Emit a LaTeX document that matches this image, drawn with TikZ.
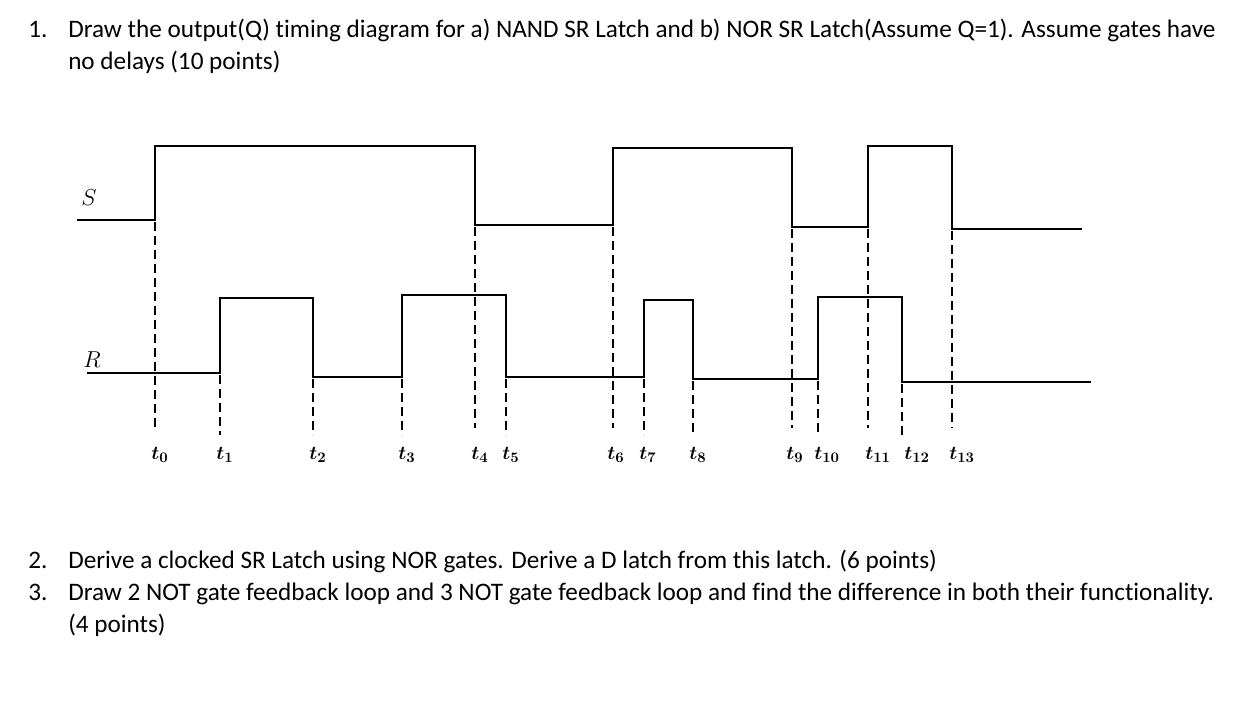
\documentclass[tikz,border=0pt]{standalone}
\usepackage{fontspec}
\setmainfont{Carlito}[Ligatures=NoCommon]
\usepackage{tikz}
\usetikzlibrary{calc}

\begin{document}
\begin{tikzpicture}[line cap=butt,line join=miter,x=0.75pt,y=-0.75pt,
    wave/.style={line width=1.5pt},
    guide/.style={line width=1.2pt,dash pattern=on 6.5pt off 4pt},
    tlabel/.style={inner sep=0pt,font=\fontsize{15}{15}\selectfont\boldmath},
    siglabel/.style={inner sep=0pt,font=\fontsize{17}{17}\selectfont},
    qtext/.style={anchor=base west,inner sep=0pt,font=\fontsize{18.9}{22}\selectfont}]
    \useasboundingbox (0,0) rectangle (1256,716);
    % question 1
    \node[qtext] (num1) at (28,38) {1.};
    \node[qtext] (q1a) at (68,38) {Draw the output(Q) timing diagram for a) NAND SR Latch and b) NOR SR Latch(Assume Q=1). Assume gates have};
    \node[qtext] (q1b) at (68,70) {no delays (10 points)};
    % signal S
    \draw [wave] (77,220)-- (155,220)-- (155,146)-- (475,146)-- (475,225)-- (613,225)-- (613,148)-- (792,148)-- (792,227)-- (868,227)-- (868,146)-- (952,146)-- (952,229)-- (1082,229);
    \node[siglabel] (sname) at (89,198) {$S$};
    % signal R
    \draw [wave] (87,373)-- (220,373)-- (220,298)-- (313,298)-- (313,377)-- (402,377)-- (402,295)-- (506,295)-- (506,377)-- (644,377)-- (644,300)-- (693,300)-- (693,379)-- (818,379)-- (818,297)-- (902,297)-- (902,382)-- (1091,382);
    \node[siglabel] (rname) at (92,360) {$R$};
    % time marks
    \draw [guide] (155,222)-- (155,428);
    \draw [guide] (220,375)-- (220,435);
    \draw [guide] (313,379)-- (313,435);
    \draw [guide] (402,379)-- (402,435);
    \draw [guide] (475,227)-- (475,428);
    \draw [guide] (506,379)-- (506,435);
    \draw [guide] (613,227)-- (613,428);
    \draw [guide] (644,379)-- (644,435);
    \draw [guide] (693,381)-- (693,435);
    \draw [guide] (792,229)-- (792,428);
    \draw [guide] (818,381)-- (818,435);
    \draw [guide] (868,229)-- (868,428);
    \draw [guide] (902,384)-- (902,435);
    \draw [guide] (952,231)-- (952,428);
    \node[tlabel] (t0) at (160,455) {$t_{0}$};
    \node[tlabel] (t1) at (225,455) {$t_{1}$};
    \node[tlabel] (t2) at (318,455) {$t_{2}$};
    \node[tlabel] (t3) at (407,455) {$t_{3}$};
    \node[tlabel] (t4) at (480,455) {$t_{4}$};
    \node[tlabel] (t5) at (511,455) {$t_{5}$};
    \node[tlabel] (t6) at (616,455) {$t_{6}$};
    \node[tlabel] (t7) at (648,455) {$t_{7}$};
    \node[tlabel] (t8) at (698,455) {$t_{8}$};
    \node[tlabel] (t9) at (795,455) {$t_{9}$};
    \node[tlabel] (t10) at (827,455) {$t_{10}$};
    \node[tlabel] (t11) at (878,455) {$t_{11}$};
    \node[tlabel] (t12) at (917,455) {$t_{12}$};
    \node[tlabel] (t13) at (962,455) {$t_{13}$};
    % questions 2 and 3
    \node[qtext] (num2) at (28,568) {2.};
    \node[qtext] (q2) at (68,568) {Derive a clocked SR Latch using NOR gates. Derive a D latch from this latch. (6 points)};
    \node[qtext] (num3) at (28,600) {3.};
    \node[qtext] (q3a) at (68,600) {Draw 2 NOT gate feedback loop and 3 NOT gate feedback loop and find the difference in both their functionality.};
    \node[qtext] (q3b) at (68,632) {(4 points)};
\end{tikzpicture}
\end{document}
